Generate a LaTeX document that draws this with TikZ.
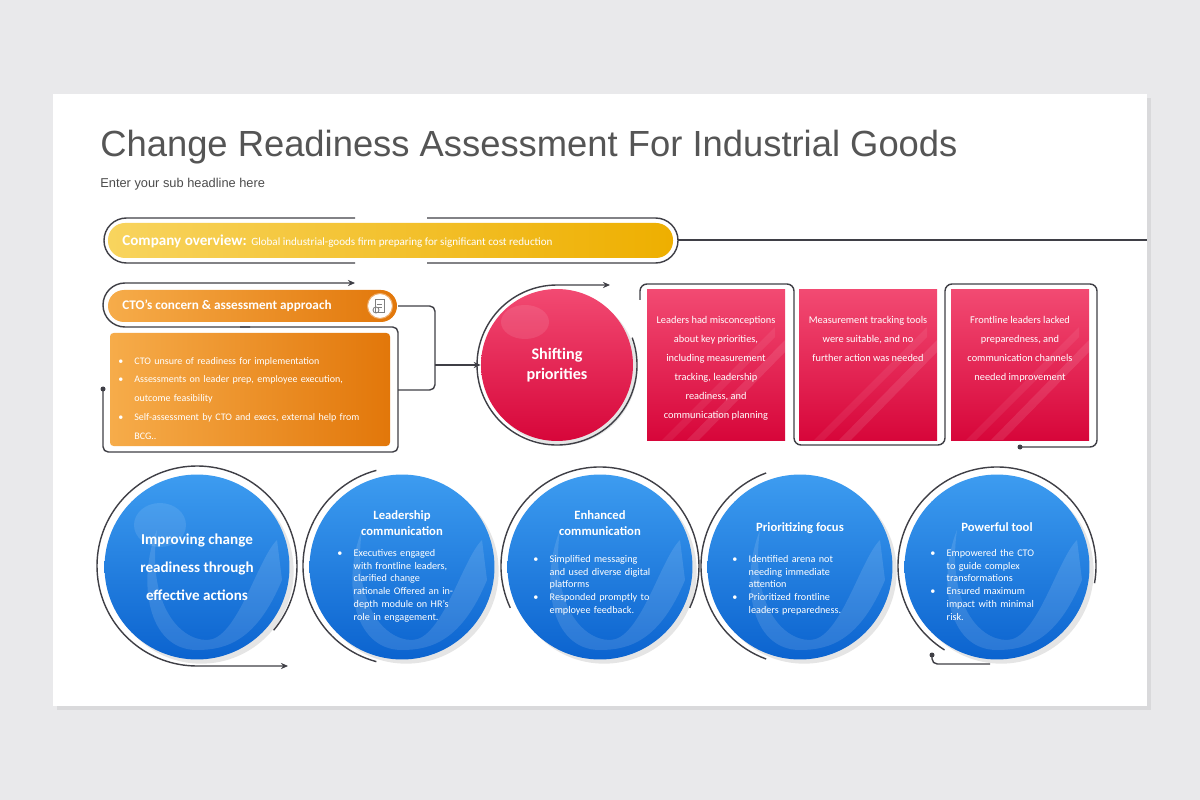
\documentclass[tikz,border=0pt]{standalone}
\usepackage{fontspec}
\setmainfont{Carlito}
\newfontfamily\titlefont{Liberation Sans}
\usetikzlibrary{arrows.meta,shadows}
\definecolor{bgc}{HTML}{E9E9EB}
\definecolor{lnc}{HTML}{3F3F46}
\definecolor{ttl}{HTML}{555555}
\hyphenpenalty=10000
\newcommand\bitem[1]{\par\hyphenpenalty=10000\hangindent=1.9em\hangafter=1\noindent\makebox[1.9em][l]{\hspace{0.3em}\textbullet}#1\par}
\tikzset{
  conn/.style={draw=lnc,line width=0.8pt,-{Stealth[length=4pt,width=3.5pt]}},
  ring/.style={draw=lnc,line width=0.8pt},
  wtxt/.style={text=white,align=center},
}
\definecolor{bl1}{HTML}{3D9CF0}
\definecolor{bl2}{HTML}{0B63CF}
\definecolor{pk1}{HTML}{F24A72}
\definecolor{pk2}{HTML}{D7063A}
\definecolor{or1}{HTML}{F6AC4A}
\definecolor{or2}{HTML}{E2770A}
\definecolor{ye1}{HTML}{F8D45E}
\definecolor{ye2}{HTML}{EEAF00}
\begin{document}
\begin{tikzpicture}[x=0.02cm,y=-0.02cm]
\useasboundingbox (0,0) rectangle (1200,800);
\fill[bgc] (0,0) rectangle (1200,800);
\fill[white,drop shadow={opacity=0.15}] (53,94) rectangle (1147,706);
\node[anchor=base west,inner sep=0,text=ttl,font=\titlefont\fontsize{20.7}{24}\selectfont] (title) at (100,157) {Change Readiness Assessment For Industrial Goods};
\node[anchor=base west,inner sep=0,text=ttl!90!black,font=\titlefont\fontsize{7.3}{9}\selectfont] (sub) at (100,188) {Enter your sub headline here};
% company overview
\draw[ring,rounded corners=0.45cm] (355,218) -- (104,218) -- (104,263) -- (355,263);
\draw[ring,rounded corners=0.45cm] (427,218) -- (678,218) -- (678,263) -- (427,263);
\draw[ring] (678,240) -- (1147,240);
\shade[left color=ye1,right color=ye2,rounded corners=0.34cm] (108,223) rectangle (673,258);
\node[anchor=west,text=white,inner sep=0] (co) at (122,241) {\fontsize{8.6}{10}\selectfont\bfseries Company overview: \fontsize{6.3}{8}\selectfont\mdseries Global industrial-goods firm preparing for significant cost reduction};
% CTO
\draw[ring,{Stealth[length=4pt,width=3.5pt]}-,rounded corners=0.44cm] (355,283) -- (103,283) -- (103,327) -- (250,327);
\draw[ring,rounded corners=3pt] (240,327) -- (398,327) -- (398,452) -- (103,452) -- (103,389);
\fill[lnc] (103,389) circle (2.5);
\shade[left color=or1,right color=or2,rounded corners=0.32cm] (108,290) rectangle (397,322);
\node[anchor=west,text=white,inner sep=0,font=\fontsize{7.5}{9}\selectfont\bfseries] (cto) at (122,306) {CTO's concern \& assessment approach};
\node[circle,fill=white,draw=or2!60,line width=0.6pt,minimum size=0.5cm] (ic) at (380,306) {};
\draw[gray,line width=0.5pt] (375,299) rectangle (384,312) (377,304)--(382,304) (377,307)--(382,307);
\draw[gray,line width=0.5pt] (376,310) circle (3);
\shade[left color=or1,right color=or2,rounded corners=2pt] (110,333) rectangle (390,446);
\node[anchor=north west,text=white,inner sep=0,text width=5.2cm,align=left,font=\fontsize{5.7}{10.7}\selectfont] (ob) at (115,345) {\bitem{CTO unsure of readiness for implementation}\bitem{Assessments on leader prep, employee execution, outcome feasibility}\bitem{Self-assessment by CTO and execs, external help from BCG..}};
\draw[ring,rounded corners=3pt] (398,306) -- (435,306) -- (435,390) -- (398,390);
\coordinate (jn) at (435,365);
% shifting priorities
\node[circle,minimum size=3.04cm,inner sep=0,top color=pk1,bottom color=pk2,drop shadow={opacity=0.2}] (sp) at (557,365) {};
\fill[white,opacity=0.1] (525,322) ellipse (24 and 17);
\node[wtxt,font=\fontsize{9.2}{11.5}\selectfont\bfseries] at (sp) {Shifting\\priorities};
\draw[conn] (jn) -- (sp.west);
\draw[conn] (557,365) ++(-20:80) arc (-20:270:80) -- (610,285);
% pink boxes
\foreach \x/\n in {647/p1,799/p2,951/p3}{
  \shade[top color=pk1,bottom color=pk2] (\x,290) rectangle (\x+138,440);
  \fill[white,opacity=0.1] (\x+40,440) -- (\x+138,340) -- (\x+138,352) -- (\x+52,440) -- cycle;
  \fill[white,opacity=0.07] (\x+15,440) -- (\x+128,327) -- (\x+128,337) -- (\x+25,440) -- cycle;
  \coordinate (\n) at (\x+69,290);
}
\tikzset{ptxt/.style={anchor=north,text=white,align=center,inner sep=0,font=\fontsize{5.9}{10.8}\selectfont}}
\node[ptxt] (t1) at (716,316) {Leaders had misconceptions\\about key priorities,\\including measurement\\tracking, leadership\\readiness, and\\communication planning};
\node[ptxt] (t2) at (868,316) {Measurement tracking tools\\were suitable, and no\\further action was needed};
\node[ptxt] (t3) at (1020,316) {Frontline leaders lacked\\preparedness, and\\communication channels\\needed improvement};
\draw[ring,rounded corners=4pt] (640,300) -- (640,284) -- (794,284) -- (794,445) -- (945,445) -- (945,284) -- (1097,284) -- (1097,447) -- (1020,447);
\fill[lnc] (1020,447) circle (2.5);
% blue circles
\foreach \cx/\n in {197/b1,402/b2,600/b3,800/b4,997/b5}{
  \node[circle,minimum size=3.7cm,inner sep=0,top color=bl1,bottom color=bl2,drop shadow={opacity=0.2}] (\n) at (\cx,567) {};
  \fill[white,opacity=0.12] (\cx-40,530) .. controls (\cx-50,600) and (\cx-20,640) .. (\cx+10,640) .. controls (\cx+40,640) and (\cx+60,560) .. (\cx+80,540) -- (\cx+85,580) .. controls (\cx+60,640) and (\cx+30,650) .. (\cx,650) .. controls (\cx-50,650) and (\cx-60,580) .. (\cx-40,530);
}
\fill[white,opacity=0.1] (160,525) ellipse (26 and 22);
\draw[conn] (197,566) ++(40:100) arc (40:-270:100) -- (288,666);
\draw[ring] (402,566) ++(-105:99) arc (-105:-255:99);
\draw[ring] (600,566) ++(-205:99) arc (-205:25:99);
\draw[ring] (800,566) ++(-110:99) arc (-110:-250:99);
\draw[ring] (997,566) ++(-238:99) arc (-238:10:99);
\draw[ring,rounded corners=3pt] (932,655) -- (932,664) -- (990,664);
\fill[lnc] (932,655) circle (2.5);
\node[wtxt,font=\fontsize{8.6}{16}\selectfont\bfseries] at (b1) {Improving change\\readiness through\\effective actions};
\tikzset{btl/.style={anchor=north,text=white,align=center,inner sep=0,font=\fontsize{7.2}{9}\selectfont\bfseries},
 bbl/.style={anchor=north west,text=white,inner sep=0,text width=2.5cm,align=left,font=\fontsize{5.8}{7.3}\selectfont}}
\node[btl] at (402,510) {Leadership\\communication};
\node[bbl] at (334,543) {\bitem{Executives engaged with frontline leaders, clarified change rationale Offered an in-depth module on HR's role in engagement.}};
\node[btl] at (600,510) {Enhanced\\communication};
\node[bbl] at (530,549) {\bitem{Simplified messaging and used diverse digital platforms}\bitem{Responded promptly to employee feedback.}};
\node[btl] at (800,522) {Prioritizing focus};
\node[bbl] at (729,549) {\bitem{Identified arena not needing immediate attention}\bitem{Prioritized frontline leaders preparedness.}};
\node[btl] at (997,522) {Powerful tool};
\node[bbl] at (927,543) {\bitem{Empowered the CTO to guide complex transformations}\bitem{Ensured maximum impact with minimal risk.}};
\end{tikzpicture}
\end{document}
